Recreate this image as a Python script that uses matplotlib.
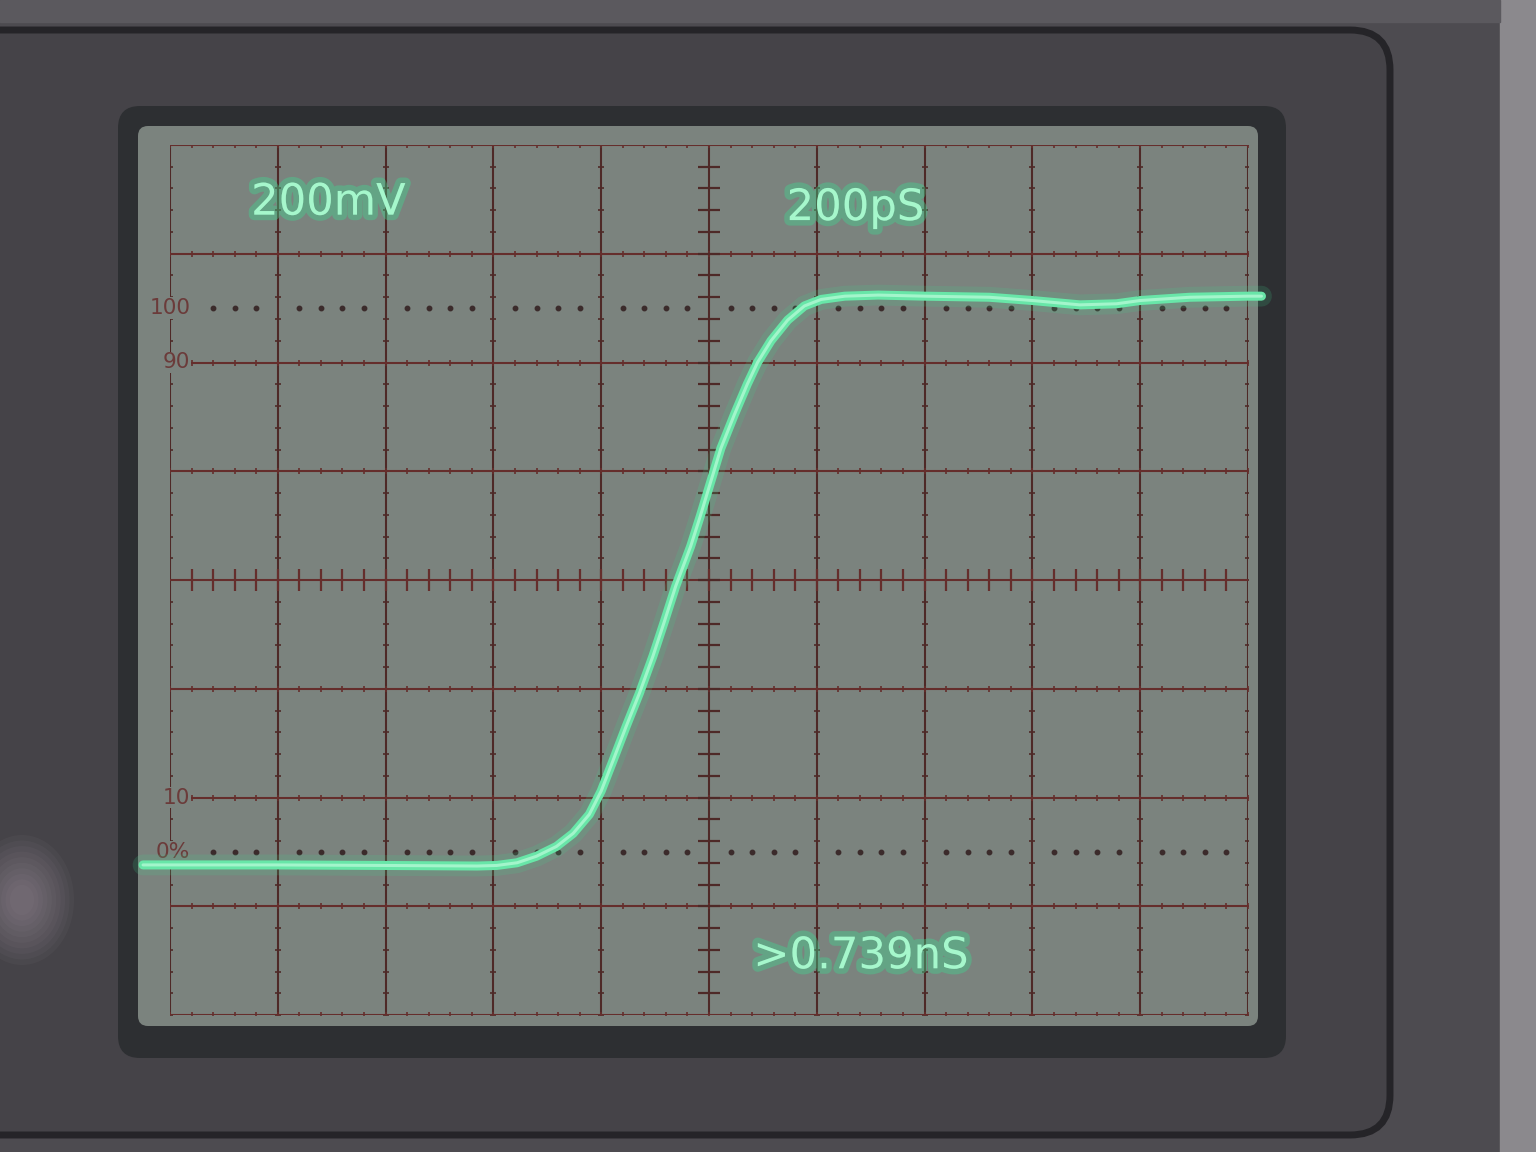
import numpy as np
import matplotlib
matplotlib.use('Agg')
import matplotlib.pyplot as plt
import matplotlib.patheffects as pe
from matplotlib.patches import FancyBboxPatch, Rectangle, Ellipse
from matplotlib import font_manager

# trace: time in ps, amplitude in mV (0 = screen centre)
trace_t_ps = [-1050, -800, -600, -430, -394, -356, -320, -283, -252, -222,
              -200, -178, -154, -129, -104, -83, -62, -34, -16, 3,
              22, 47, 71, 90, 115, 146, 177, 208, 252, 314,
              400, 520, 600, 688, 756, 800, 892, 1000, 1025]
trace_v_mv = [-524, -524, -525, -526, -525, -520, -508, -490, -466, -431,
              -388, -332, -270, -208, -140, -77, -12, 62, 118, 180,
              242, 304, 360, 400, 440, 478, 504, 516, 522, 524,
              522, 520, 514, 506, 508, 514, 520, 522, 522]

volts_label = '200mV'
sweep_label = '200pS'
readout_label = '>0.739nS'

# graticule percent marks (mV from centre)
level_labels = ['100', '90', '10', '0%']
level_mv = [500, 400, -400, -500]

PS_PER_DIV = 200
MV_PER_DIV = 200
H_DIV = 10
V_DIV = 8

available = {f.name for f in font_manager.fontManager.ttflist}


def pick(*names):
    for n in names:
        if n in available:
            return n
    return 'DejaVu Sans'


narrow = pick('Liberation Sans Narrow', 'DejaVu Sans Condensed', 'DejaVu Sans')
scale = {'Liberation Sans Narrow': 1.0, 'DejaVu Sans Condensed': 0.85}.get(narrow, 0.78)

GLASS = '#7b837e'
GRID_H = '#652e2c'
GRID_V = '#4e2927'
TRACE = '#68e6a8'

fig = plt.figure(figsize=(15.36, 11.52), dpi=100)
fig.patch.set_facecolor('#4d4b50')

# bezel and screen frame, in pixel coordinates
bz = fig.add_axes([0, 0, 1, 1])
bz.set_xlim(0, 1536)
bz.set_ylim(1152, 0)
bz.axis('off')
bz.add_patch(Rectangle((1500, 0), 36, 1152, color='#8b898d'))
bz.add_patch(Rectangle((0, 0), 1500, 22, color='#5b595e'))
bz.add_patch(FancyBboxPatch((-40, 30), 1430, 1105,
                            boxstyle='round,pad=0,rounding_size=40',
                            fc='#454348', ec='#252428', lw=5))
# soft glare on the left of the bezel
for w in np.linspace(130, 30, 10):
    bz.add_patch(Ellipse((22, 900), w * 0.8, w, color='#c8b8c6',
                         alpha=0.045, lw=0))
bz.add_patch(FancyBboxPatch((118, 106), 1168, 952,
                            boxstyle='round,pad=0,rounding_size=22',
                            fc='#2d2f32', ec='none'))
bz.add_patch(FancyBboxPatch((138, 126), 1120, 900,
                            boxstyle='round,pad=0,rounding_size=10',
                            fc=GLASS, ec='none'))

# graticule area
ax = fig.add_axes([170 / 1536, 1 - 1015 / 1152, 1078 / 1536, 870 / 1152])
xmax = H_DIV / 2 * PS_PER_DIV
ymax = V_DIV / 2 * MV_PER_DIV
ax.set_xlim(-xmax, xmax)
ax.set_ylim(-ymax, ymax)
ax.axis('off')

major_x = np.arange(-xmax, xmax + 1, PS_PER_DIV)
major_y = np.arange(-ymax, ymax + 1, MV_PER_DIV)
minor_x = np.arange(-xmax, xmax + 1, PS_PER_DIV / 5)
minor_y = np.arange(-ymax, ymax + 1, MV_PER_DIV / 5)

for x in major_x:
    ax.plot([x, x], [-ymax, ymax], color=GRID_V, lw=1.5, zorder=1)
    if x != 0:
        ax.plot(np.full(len(minor_y), x), minor_y, ls='none', marker='_',
                ms=4, mew=1.2, color=GRID_V, zorder=1)
for y in major_y:
    x0 = -xmax * 0.96 if abs(y) == 2 * MV_PER_DIV else -xmax
    ax.plot([x0, xmax], [y, y], color=GRID_H, lw=1.5, zorder=1)
    if y != 0:
        ax.plot(minor_x, np.full(len(minor_x), y), ls='none', marker='|',
                ms=4, mew=1.2, color=GRID_H, zorder=1)

# centre cross with long minor ticks
ax.plot(minor_x[1:-1], np.zeros(len(minor_x) - 2), ls='none', marker='|',
        ms=16, mew=1.6, color=GRID_H, zorder=1)
ax.plot(np.zeros(len(minor_y) - 2), minor_y[1:-1], ls='none', marker='_',
        ms=16, mew=1.6, color=GRID_V, zorder=1)

# dotted 0% / 100% lines
dot_x = [x for x in np.arange(-xmax + 80, xmax - 39, PS_PER_DIV / 5)
         if abs(x % PS_PER_DIV) > 1e-6]
for lv in (level_mv[0], level_mv[-1]):
    ax.plot(dot_x, np.full(len(dot_x), lv), ls='none', marker='o', ms=3.2,
            color='#3b2b2b', zorder=1)

for lab, lv in zip(level_labels, level_mv):
    ax.text(-xmax * 0.962, lv, lab, ha='right', va='center',
            fontsize=20 * scale, color='#6b3b3a', family=narrow, zorder=2,
            bbox=dict(fc=GLASS, ec='none', pad=0.5))

# the trace, with a little phosphor glow
ax.plot(trace_t_ps, trace_v_mv, color='#40d890', lw=15, alpha=0.16,
        clip_on=False, solid_capstyle='round', solid_joinstyle='round', zorder=3)
ax.plot(trace_t_ps, trace_v_mv, color=TRACE, lw=6.5, clip_on=False,
        solid_capstyle='round', solid_joinstyle='round', zorder=4)
ax.plot(trace_t_ps, trace_v_mv, color='#a3f5cb', lw=2.2, clip_on=False,
        solid_capstyle='round', solid_joinstyle='round', zorder=5)

glow = [pe.withStroke(linewidth=8, foreground='#3fd690', alpha=0.4)]
txt = dict(ha='center', va='center', fontsize=40 * scale, color='#a6f7cc',
           family=narrow, path_effects=glow, zorder=6)
ax.text(-706, 694, volts_label, **txt)
ax.text(272, 684, sweep_label, **txt)
ax.text(282, -692, readout_label, **txt)

fig.savefig('out.png', dpi=100, facecolor=fig.get_facecolor())
